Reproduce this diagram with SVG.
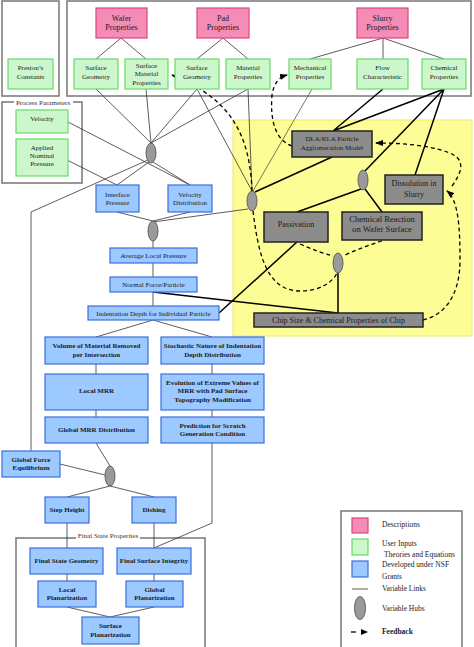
<svg xmlns="http://www.w3.org/2000/svg" width="474" height="647" viewBox="0 0 474 647">
<defs>
<marker id="arr" markerUnits="userSpaceOnUse" markerWidth="8" markerHeight="6" refX="7" refY="3" orient="auto">
<path d="M0,0 L8,3 L0,6 z" fill="#000"/>
</marker>
<style>
text{font-family:"Liberation Serif","Times New Roman",serif;fill:#1a1a1a;text-anchor:middle}
.t7{font-size:7px}
.t8{font-size:8px}
.b{font-weight:bold}
.frame{fill:#fff;stroke:#777;stroke-width:1.5}
.pink{fill:#f48cb6;stroke:#d9477f;stroke-width:1.2}
.green{fill:#ccf6cc;stroke:#66dd66;stroke-width:1.2}
.blue{fill:#9cc9ff;stroke:#3a6ee0;stroke-width:1.2}
.gray{fill:#8c8c8c;stroke:#222;stroke-width:1.5}
.hub{fill:#9a9a9a;stroke:#4a4a4a;stroke-width:0.8}
.thin{fill:none;stroke:#333;stroke-width:0.8}
.thick{fill:none;stroke:#000;stroke-width:1.5}
.dash{fill:none;stroke:#000;stroke-width:1.3;stroke-dasharray:4 3}
.lbl{fill:#333}
</style>
</defs>
<rect width="474" height="647" fill="#fff"/>
<g id="frames">
<rect class="frame" x="2" y="1" width="57" height="95"/>
<rect class="frame" x="67" y="1" width="404" height="95"/>
<rect class="frame" x="2" y="102" width="80" height="81"/>
<rect x="14" y="99" width="59" height="7" fill="#fff"/>
<text class="t7 lbl" x="43" y="104.5">Process Parameters</text>
<rect class="frame" x="16" y="538" width="189" height="112"/>
<rect x="76" y="534" width="64" height="7" fill="#fff"/>
<text class="t7 lbl" x="108" y="538">Final State Properties</text>
<rect x="233" y="120" width="239" height="216" fill="#fdfd96" stroke="#ecea6a" stroke-width="1"/>
</g>
<g id="connectors">
<path class="thin" d="M121,38 L96,59 M121,38 L146,59 M223,38 L197,59 M223,38 L248,59 M383,38 L310,59 M383,38 L383,59 M383,38 L444,59"/>
<path class="thin" d="M96,89 L151,143 M146,89 L151,143 M197,89 L151,143 M248,89 L151,143"/>
<path class="thin" d="M197,89 L252,191 M248,89 L252,191"/>
<path fill="none" stroke="#555530" stroke-width="0.8" d="M312,89 L253,191"/>
<path class="thin" d="M68,122 L190,185 M67,160 L117,185 M149,162 L117,185 M153,162 L190,185"/>
<path class="thin" d="M148,160 L31,212 L31,451"/>
<path class="thin" d="M117,212 L153,221 M190,212 L153,221 M248,209 L153,222"/>
<path class="thin" d="M153,241 L153,248 M153,263 L153,277 M153,292 L153,306"/>
<path class="thin" d="M153,320 L96,337 M153,320 L212,337 M96,364 L96,374 M96,410 L96,417 M212,364 L212,374 M212,410 L212,417"/>
<path class="thin" d="M96,443 L110,466 M60,464 L105,475 M212,443 L212,523 L154,548"/>
<path class="thin" d="M110,486 L67,497 M110,486 L154,497 M67,523 L67,548 M154,523 L154,548 M67,574 L67,581 M154,574 L154,581 M67,607 L110,617 M154,607 L110,617"/>
<path class="thick" d="M383,89 L333,131 M444,89 L333,131 M444,89 L365,171 M444,89 L415,175"/>
<path class="thick" d="M332,157 L255,192 M361,189 L297,212 M365,189 L382,212 M338,273 L338,313 M153,292 L338,313 M219,313 L297,242"/>
<path class="dash" d="M252,191 C250,140 235,100 172,75" marker-end="url(#arr)"/>
<path class="dash" d="M253,211 C258,250 265,291 300,291 C320,291 333,282 337,273"/>
<path class="dash" d="M300,244 Q318,252 333,256"/>
<path class="dash" d="M382,241 Q362,247 343,256"/>
<path class="dash" d="M423,320 C445,315 460,295 460,260 C460,225 458,200 447,191" marker-end="url(#arr)"/>
<path class="dash" d="M452,186 C462,172 466,160 450,153 C430,145 400,143 376,143" marker-end="url(#arr)"/>
<path class="dash" d="M292,146 C275,140 270,120 272,95 C274,82 280,77 287,75" marker-end="url(#arr)"/>
</g>
<g id="hubs">
<ellipse id="hub1" class="hub" cx="151" cy="153" rx="5" ry="10"/>
<ellipse id="hub2" class="hub" cx="153" cy="231" rx="5" ry="10"/>
<ellipse id="hub3" class="hub" cx="110" cy="476" rx="5" ry="10"/>
<ellipse id="hub4" class="hub" cx="252" cy="201" rx="5" ry="10"/>
<ellipse id="hub5" class="hub" cx="363" cy="180" rx="5" ry="10"/>
<ellipse id="hub6" class="hub" cx="338" cy="263" rx="5" ry="10"/>
</g>
<g id="wafer"><rect class="pink" x="96" y="8" width="51" height="30"/><text class="t8" x="121.5" y="20.5">Wafer</text><text class="t8" x="121.5" y="30">Properties</text></g>
<g id="pad"><rect class="pink" x="197" y="8" width="52" height="30"/><text class="t8" x="223" y="20.5">Pad</text><text class="t8" x="223" y="30">Properties</text></g>
<g id="slurry"><rect class="pink" x="357" y="8" width="51" height="30"/><text class="t8" x="382.5" y="20.5">Slurry</text><text class="t8" x="382.5" y="30">Properties</text></g>
<g id="preston"><rect class="green" x="8" y="59" width="45" height="30"/><text class="t7" x="30.5" y="70">Preston’s</text><text class="t7" x="30.5" y="78.5">Constants</text></g>
<g id="wsg"><rect class="green" x="74" y="59" width="44" height="30"/><text class="t7" x="96" y="70">Surface</text><text class="t7" x="96" y="78.5">Geometry</text></g>
<g id="smp"><rect class="green" x="125" y="59" width="43" height="30"/><text class="t7" x="146.5" y="68">Surface</text><text class="t7" x="146.5" y="76.3">Material</text><text class="t7" x="146.5" y="84.6">Properties</text></g>
<g id="psg"><rect class="green" x="175" y="59" width="44" height="30"/><text class="t7" x="197" y="70">Surface</text><text class="t7" x="197" y="78.5">Geometry</text></g>
<g id="pmp"><rect class="green" x="226" y="59" width="44" height="30"/><text class="t7" x="248" y="70">Material</text><text class="t7" x="248" y="78.5">Properties</text></g>
<g id="mech"><rect class="green" x="289" y="59" width="42" height="30"/><text class="t7" x="310" y="70">Mechanical</text><text class="t7" x="310" y="78.5">Properties</text></g>
<g id="flow"><rect class="green" x="357" y="59" width="51" height="30"/><text class="t7" x="382.5" y="70">Flow</text><text class="t7" x="382.5" y="78.5">Characteristic</text></g>
<g id="chem"><rect class="green" x="422" y="59" width="44" height="30"/><text class="t7" x="444" y="70">Chemical</text><text class="t7" x="444" y="78.5">Properties</text></g>
<g id="velocity"><rect class="green" x="16" y="110" width="52" height="23"/><text class="t7" x="42" y="120.8">Velocity</text></g>
<g id="anp"><rect class="green" x="16" y="139" width="52" height="37"/><text class="t7" x="42" y="149.8">Applied</text><text class="t7" x="42" y="157.8">Nominal</text><text class="t7" x="42" y="165.8">Pressure</text></g>
<g id="ip"><rect class="blue" x="96" y="185" width="43" height="27"/><text class="t7" x="117.5" y="196.5">Interface</text><text class="t7" x="117.5" y="204.8">Pressure</text></g>
<g id="vd"><rect class="blue" x="168" y="185" width="44" height="27"/><text class="t7" x="190" y="196.5">Velocity</text><text class="t7" x="190" y="204.8">Distribution</text></g>
<g id="alp"><rect class="blue" x="110" y="248" width="87" height="15"/><text class="t7" x="153.5" y="258">Average Local Pressure</text></g>
<g id="nfp"><rect class="blue" x="110" y="277" width="87" height="15"/><text class="t7" x="153.5" y="287">Normal Force/Particle</text></g>
<g id="idp"><rect class="blue" x="88" y="306" width="131" height="14"/><text class="t7" x="153.5" y="315.5">Indentation Depth for Individual Particle</text></g>
<g id="vol"><rect class="blue" x="45" y="337" width="103" height="27"/><text class="t7 b" x="96.5" y="348.2">Volume of Material Removed</text><text class="t7 b" x="96.5" y="356.5">per Intersection</text></g>
<g id="lmrr"><rect class="blue" x="45" y="374" width="103" height="36"/><text class="t7 b" x="96.5" y="392.5">Local MRR</text></g>
<g id="gmrr"><rect class="blue" x="45" y="417" width="103" height="26"/><text class="t7 b" x="96.5" y="431.8">Global MRR Distribution</text></g>
<g id="sto"><rect class="blue" x="161" y="337" width="103" height="27"/><text class="t7 b" x="212.5" y="348.2">Stochastic Nature of Indentation</text><text class="t7 b" x="212.5" y="356.5">Depth Distribution</text></g>
<g id="evo"><rect class="blue" x="161" y="374" width="103" height="36"/><text class="t7 b" x="212.5" y="384.8">Evolution of Extreme Values of</text><text class="t7 b" x="212.5" y="393.2">MRR with Pad Surface</text><text class="t7 b" x="212.5" y="401.5">Topography Modification</text></g>
<g id="pred"><rect class="blue" x="161" y="417" width="103" height="26"/><text class="t7 b" x="212.5" y="428.2">Prediction for Scratch</text><text class="t7 b" x="212.5" y="436.2">Generation Condition</text></g>
<g id="gfe"><rect class="blue" x="2" y="451" width="58" height="26"/><text class="t7 b" x="31" y="461.5">Global Force</text><text class="t7 b" x="31" y="469.5">Equilibrium</text></g>
<g id="step"><rect class="blue" x="45" y="497" width="44" height="26"/><text class="t7 b" x="67" y="511.5">Step Height</text></g>
<g id="dish"><rect class="blue" x="132" y="497" width="44" height="26"/><text class="t7 b" x="154" y="511.5">Dishing</text></g>
<g id="fsg"><rect class="blue" x="30" y="548" width="73" height="26"/><text class="t7 b" x="66.5" y="562.5">Final State Geometry</text></g>
<g id="fsi"><rect class="blue" x="117" y="548" width="74" height="26"/><text class="t7 b" x="154" y="562.5">Final Surface Integrity</text></g>
<g id="lp"><rect class="blue" x="38" y="581" width="58" height="26"/><text class="t7 b" x="67" y="591.8">Local</text><text class="t7 b" x="67" y="600.2">Planarization</text></g>
<g id="gp"><rect class="blue" x="126" y="581" width="57" height="26"/><text class="t7 b" x="154.5" y="591.8">Global</text><text class="t7 b" x="154.5" y="600.2">Planarization</text></g>
<g id="sp"><rect class="blue" x="82" y="617" width="57" height="27"/><text class="t7 b" x="110.5" y="628.2">Surface</text><text class="t7 b" x="110.5" y="636.5">Planarization</text></g>
<g id="dla"><rect class="gray" x="292" y="131" width="80" height="26"/><text class="t7" x="332" y="140.8">DLA/RLA Particle</text><text class="t7" x="332" y="150">Agglomeration Model</text></g>
<g id="diss"><rect class="gray" x="385" y="175" width="58" height="29"/><text class="t8" x="414" y="186">Dissolution in</text><text class="t8" x="414" y="196.5">Slurry</text></g>
<g id="pass"><rect class="gray" x="264" y="212" width="64" height="30"/><text class="t8" x="296" y="226.8">Passivation</text></g>
<g id="crw"><rect class="gray" x="342" y="212" width="80" height="28"/><text style="font-size:8.6px" x="382" y="222.2">Chemical Reaction</text><text style="font-size:8.6px" x="382" y="231.5">on Wafer Surface</text></g>
<g id="chip"><rect class="gray" x="254" y="313" width="169" height="14"/><text class="t8" x="338.5" y="322.8">Chip Size &amp; Chemical Properties of Chip</text></g>
<g id="legend">
<rect class="frame" x="341" y="511" width="121" height="137"/>
<rect class="pink" x="352" y="518" width="16" height="15"/>
<rect class="green" x="352" y="539" width="16" height="16"/>
<rect class="blue" x="352" y="561" width="16" height="16"/>
<line x1="352" y1="589" x2="368" y2="589" stroke="#333" stroke-width="0.8"/>
<ellipse class="hub" cx="360" cy="608" rx="5.5" ry="11.5"/>
<line x1="351" y1="632" x2="356" y2="632" stroke="#000" stroke-width="1.3"/>
<path d="M361,629 L368,632 L361,635 z" fill="#000"/>
<g style="text-anchor:start">
<text class="t7" x="382" y="526.5" style="text-anchor:start;font-size:7.5px">Descriptions</text>
<text class="t7" x="382" y="545.5" style="text-anchor:start;font-size:7.5px">User Inputs</text>
<text class="t7" x="384" y="556.5" style="text-anchor:start;font-size:7.5px">Theories and Equations</text>
<text class="t7" x="382" y="567" style="text-anchor:start;font-size:7.5px">Developed under  NSF</text>
<text class="t7" x="382" y="578.5" style="text-anchor:start;font-size:7.5px">Grants</text>
<text class="t7" x="382" y="590.5" style="text-anchor:start;font-size:7.5px">Variable Links</text>
<text class="t7" x="382" y="610.5" style="text-anchor:start;font-size:7.5px">Variable Hubs</text>
<text class="t7 b" x="382" y="633.5" style="text-anchor:start;font-size:7.5px">Feedback</text>
</g>
</g>
</svg>
